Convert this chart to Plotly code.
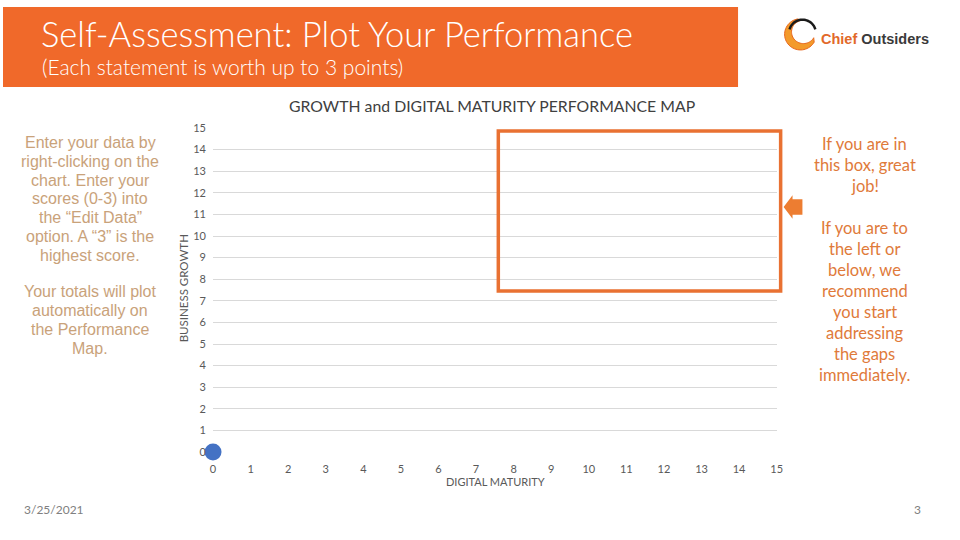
import numpy as np
import plotly.graph_objects as go

# ---- data ----
digital_maturity = [0]
business_growth = [0]
x_ticks = list(range(0, 16))
y_ticks = list(range(0, 16))

left_lines_1 = ["Enter your data by", "right-clicking on the", "chart. Enter your",
                "scores (0-3) into", "the \u201cEdit Data\u201d", "option. A \u201c3\u201d is the",
                "highest score."]
left_lines_2 = ["Your totals will plot", "automatically on", "the Performance", "Map."]
right_lines_1 = ["If you are in", "this box, great", "job!"]
right_lines_2 = ["If you are to", "the left or", "below, we", "recommend", "you start",
                 "addressing", "the gaps", "immediately."]

W, H = 960, 540


def px(x, y):
    return x / W, 1 - y / H


def path_from(points, close=True):
    s = ""
    for i, (x, y) in enumerate(points):
        X, Y = px(x, y)
        s += ("M" if i == 0 else "L") + f"{X:.5f},{Y:.5f} "
    return s + ("Z" if close else "")


# plot area in pixels
PL, PR, PT, PB = 212, 781, 124, 456

fig = go.Figure()
fig.add_trace(go.Scatter(
    x=digital_maturity, y=business_growth, mode="markers",
    marker=dict(size=17, color="#4472C4"), cliponaxis=False,
    showlegend=False, hoverinfo="skip"))

ORANGE = "#F0692A"
BOX = "#E97132"
shapes = []
# banner
shapes.append(dict(type="rect", xref="paper", yref="paper",
                   x0=0, x1=742 / W, y0=1 - 82 / H, y1=1,
                   fillcolor=ORANGE, line=dict(width=0), layer="below"))
# target box
bx0, by0 = px(500, 291)
bx1, by1 = px(785, 127)
shapes.append(dict(type="rect", xref="paper", yref="paper", x0=bx0, x1=bx1, y0=by0, y1=by1,
                   line=dict(color=BOX, width=3.5), fillcolor="rgba(0,0,0,0)", layer="above"))
# arrow pointing left
arrow_pts = [(788, 205), (797, 193), (797, 197), (807, 197), (807, 213), (797, 213), (797, 217)]
shapes.append(dict(type="path", xref="paper", yref="paper", path=path_from(arrow_pts),
                   fillcolor="#ED7D31", line=dict(width=0)))

# logo swirl
cx, cy = 805, 28
th = np.linspace(np.radians(100), np.radians(330), 40)
outer = [(cx + 16 * np.cos(t), cy - 16 * np.sin(t)) for t in th]
inner = [(cx + 3 + 12 * np.cos(t), cy - 2.5 - 12 * np.sin(t)) for t in th[::-1]]
shapes.append(dict(type="path", xref="paper", yref="paper", path=path_from(outer + inner),
                   fillcolor="#F39A2B", line=dict(color="#E8671E", width=1)))
th2 = np.linspace(np.radians(15), np.radians(165), 30)
arc = [(cx + 2 + 13.5 * np.cos(t), cy - 1.5 - 13.5 * np.sin(t)) for t in th2]
shapes.append(dict(type="path", xref="paper", yref="paper", path=path_from(arc, close=False),
                   line=dict(color="#1A1A1A", width=2.5)))

annotations = []


def ann(text, x, y, size, color, family, xanchor="center", yanchor="middle", align="center",
        weight=None, **kw):
    X, Y = px(x, y)
    font = dict(size=size, color=color, family=family)
    if weight is not None:
        font["weight"] = weight
    annotations.append(dict(text=text, x=X, y=Y, xref="paper", yref="paper", showarrow=False,
                            font=font, xanchor=xanchor, yanchor=yanchor, align=align, **kw))


ann("Self-Assessment: Plot Your Performance", 36, 27.5, 34.5, "white", "Lato", xanchor="left", weight=300)
ann("(Each statement is worth up to 3 points)", 37, 61, 21, "white", "Lato", xanchor="left",
    weight=300)
ann("<b><span style='color:#E2692A'>Chief</span> <span style='color:#3A3A3A'>Outsiders</span></b>",
    824, 33, 14.5, "#3A3A3A", "Liberation Sans", xanchor="left")

ann("GROWTH and DIGITAL MATURITY PERFORMANCE MAP", 494, 101, 15.8, "#404040", "Lato")
ann("DIGITAL MATURITY", 497, 486, 11, "#595959", "Lato")
ann("BUSINESS GROWTH", 182, 288, 11.5, "#595959", "Lato", textangle=-90)

LEFT_C = "#C9A27A"
for i, t in enumerate(left_lines_1):
    ann(t, 88, 139 + i * 19.2, 16, LEFT_C, "Liberation Sans")
for i, t in enumerate(left_lines_2):
    ann(t, 88, 292 + i * 19.3, 16, LEFT_C, "Liberation Sans")

RIGHT_C = "#E07A3A"
for i, t in enumerate(right_lines_1):
    ann(t, 870, 140 + i * 21.5, 16.5, RIGHT_C, "Lato")
for i, t in enumerate(right_lines_2):
    ann(t, 870, 226 + i * 21.6, 16.5, RIGHT_C, "Lato")

ann("3/25/2021", 19, 515, 12, "#808080", "Lato", xanchor="left")
ann("3", 929, 515, 12, "#808080", "Lato", xanchor="right")

fig.update_layout(
    width=W, height=H, margin=dict(l=0, r=0, t=0, b=0),
    paper_bgcolor="white", plot_bgcolor="white",
    shapes=shapes, annotations=annotations, showlegend=False,
    xaxis=dict(domain=[PL / W, PR / W], range=[0, 15], tickvals=x_ticks,
               showgrid=False, zeroline=False, showline=False,
               tickfont=dict(size=11, color="#595959", family="Lato"),
               ticks="", ticklabelstandoff=9, fixedrange=True),
    yaxis=dict(domain=[1 - PB / H, 1 - PT / H], range=[0, 15], tickvals=y_ticks,
               showgrid=True, gridcolor="#D9D9D9", gridwidth=1, zeroline=False, showline=False,
               tickfont=dict(size=11, color="#595959", family="Lato"),
               ticks="", ticklabelstandoff=6, fixedrange=True),
)

fig.write_html("out.html", post_script="document.body.style.margin='0';")
